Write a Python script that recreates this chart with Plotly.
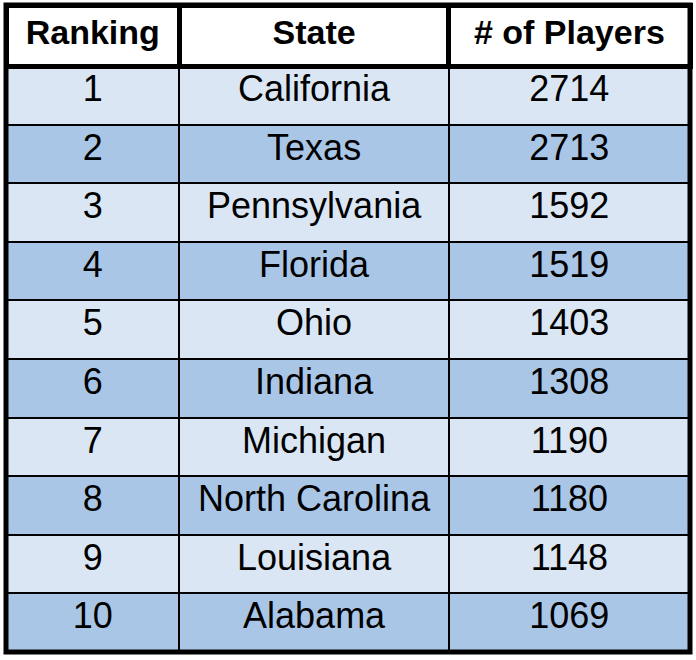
import plotly.graph_objects as go

ranking = [str(i) for i in range(1, 11)]
states = ["California", "Texas", "Pennsylvania", "Florida", "Ohio", "Indiana",
          "Michigan", "North Carolina", "Louisiana", "Alabama"]
players = [2714, 2713, 1592, 1519, 1403, 1308, 1190, 1180, 1148, 1069]
headers = ["<b>Ranking</b>", "<b>State</b>", "<b># of Players</b>"]

light, dark = "#dbe6f4", "#aac6e6"
fills = [light if i % 2 == 0 else dark for i in range(len(states))]

fig = go.Figure(go.Table(
    columnwidth=[174, 270, 242],
    header=dict(values=headers, fill_color="white", align="center", height=61,
                line=dict(color="black", width=5),
                font=dict(family="Liberation Sans, Arial", size=34, color="black")),
    cells=dict(values=[ranking, states, [str(p) for p in players]],
               fill_color=[fills] * 3, align="center", height=58.6,
               line=dict(color="black", width=2),
               font=dict(family="Liberation Sans, Arial", size=36, color="black")),
    domain=dict(x=[0, 1], y=[0, 1]),
))
fig.add_shape(type="rect", xref="paper", yref="paper", x0=0, x1=1, y0=0, y1=1,
              line=dict(color="black", width=5), layer="above")
fig.update_layout(width=696, height=660, margin=dict(l=6, r=6, t=5, b=8),
                  paper_bgcolor="white")
fig.write_html("out.html", config={"displayModeBar": False},
               post_script="document.body.style.margin='0';document.body.style.overflow='hidden';")
